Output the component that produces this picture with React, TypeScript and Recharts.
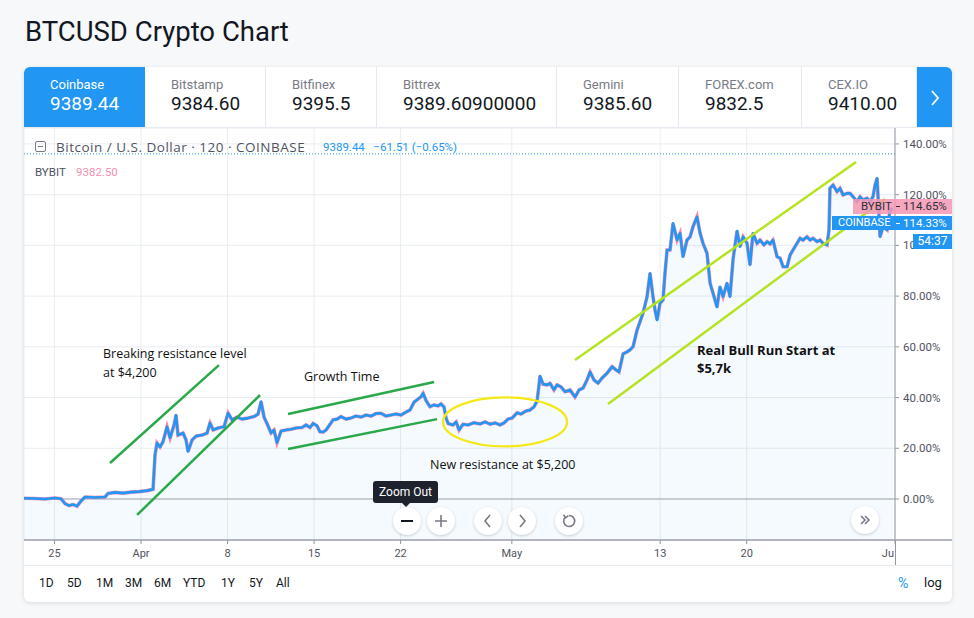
import React from 'react';
import {
  ComposedChart,
  Area,
  Line,
  XAxis,
  YAxis,
  CartesianGrid,
  ReferenceLine,
  ReferenceDot,
} from 'recharts';

// Sample times, in days from 1 April (thinned 2-hour bars)
const dayOffsets = [
  -9.47, -8.58, -7.77, -6.96, -6.47, -6.15, -5.82, -5.5, -5.18, -4.86,
  -4.53, -3.72, -2.91, -2.67, -2.1, -1.46, -0.81, -0.16, 0.49, 0.97,
  1.13, 1.29, 1.54, 1.78, 2.1, 2.35, 2.67, 2.83, 2.99, 3.4,
  3.64, 3.8, 4.13, 4.45, 4.94, 5.34, 5.58, 5.83, 6.23, 6.72,
  7.04, 7.36, 7.77, 8.17, 8.66, 9.14, 9.47, 9.71, 9.95, 10.28,
  10.52, 10.76, 11.0, 11.33, 11.73, 12.14, 12.54, 13.03, 13.35, 13.67,
  13.92, 14.24, 14.48, 14.72, 14.97, 15.53, 15.86, 16.18, 16.59, 16.91,
  17.39, 17.8, 18.2, 18.61, 19.01, 19.42, 19.82, 20.23, 20.63, 21.04,
  21.44, 21.76, 22.09, 22.41, 22.65, 22.82, 23.06, 23.38, 23.71, 24.03,
  24.27, 24.51, 24.68, 24.84, 25.24, 25.49, 25.73, 26.05, 26.46, 26.94,
  27.43, 27.83, 28.24, 28.64, 29.05, 29.37, 29.69, 30.02, 30.42, 30.74,
  31.15, 31.47, 31.8, 32.04, 32.2, 32.28, 32.52, 32.85, 33.09, 33.41,
  33.66, 33.98, 34.3, 34.71, 35.11, 35.44, 35.76, 36.08, 36.33, 36.65,
  36.97, 37.3, 37.7, 38.11, 38.43, 38.67, 39.0, 39.32, 39.56, 39.81,
  40.13, 40.37, 40.61, 40.94, 41.18, 41.42, 41.59, 41.75, 41.99, 42.23,
  42.39, 42.56, 42.8, 43.04, 43.37, 43.61, 43.85, 44.17, 44.42, 44.66,
  44.98, 45.23, 45.47, 45.79, 46.04, 46.28, 46.6, 46.84, 47.09, 47.41,
  47.65, 47.9, 48.22, 48.46, 48.71, 49.03, 49.27, 49.51, 49.84, 50.08,
  50.4, 50.65, 50.89, 51.13, 51.46, 51.7, 51.94, 52.27, 52.51, 52.75,
  53.07, 53.32, 53.56, 53.88, 54.13, 54.37, 54.69, 54.94, 55.18, 55.5,
  55.66, 55.74, 55.99, 56.31, 56.55, 56.8, 57.12, 57.36, 57.61, 57.93,
  58.17, 58.41, 58.74, 58.98, 59.22, 59.39, 59.55, 59.63, 59.79, 60.03,
  60.36, 60.6, 60.84,
];

// BTC/USD on Coinbase, percent change from the first bar
const coinbasePct = [
  0.3, 0.2, 0.0, 0.4, 0.1, -1.8, -2.6, -2.2, -2.8, -0.8,
  0.8, 0.6, 0.8, 2.2, 2.6, 2.3, 2.7, 2.9, 3.3, 3.8,
  17.4, 22.1, 20.5, 22.6, 28.5, 24.1, 29.2, 33.1, 25.2, 26.0,
  23.3, 18.7, 23.3, 24.8, 25.2, 26.0, 30.0, 27.2, 28.0, 28.5,
  33.9, 31.2, 32.3, 31.5, 31.9, 32.5, 33.5, 38.4, 32.3, 28.8,
  26.0, 27.2, 22.2, 26.8, 27.2, 27.5, 28.0, 28.2, 29.2, 28.2,
  29.8, 28.8, 26.5, 26.4, 27.2, 31.2, 31.5, 32.5, 31.5, 31.8,
  32.7, 32.3, 33.1, 32.7, 33.7, 33.8, 32.7, 33.1, 33.5, 33.1,
  34.3, 35.1, 38.2, 39.4, 40.3, 41.7, 38.8, 36.4, 37.1, 36.7,
  37.5, 36.3, 31.9, 29.8, 29.2, 30.4, 27.2, 29.5, 29.2, 30.1,
  29.6, 30.4, 29.5, 30.0, 29.2, 30.0, 31.5, 31.9, 34.0, 33.5,
  34.7, 35.1, 36.4, 38.6, 45.0, 48.5, 45.3, 45.0, 45.6, 43.0,
  45.0, 44.2, 42.3, 43.0, 40.2, 43.0, 43.7, 46.9, 50.1, 46.9,
  45.7, 47.7, 49.6, 52.2, 50.9, 50.1, 57.2, 58.0, 58.8, 60.1,
  66.6, 69.9, 73.2, 79.8, 89.0, 79.8, 74.5, 70.6, 77.2, 78.5,
  89.0, 98.2, 98.2, 108.7, 102.1, 104.8, 95.5, 102.1, 103.4, 107.4,
  111.3, 104.8, 100.8, 96.9, 85.1, 81.1, 75.7, 83.7, 79.8, 85.1,
  79.8, 94.6, 105.7, 99.5, 103.4, 100.8, 92.3, 104.8, 100.8, 102.1,
  100.2, 101.5, 100.6, 102.1, 95.5, 95.0, 91.6, 91.6, 96.2, 98.2,
  100.8, 102.8, 102.1, 103.4, 102.1, 102.8, 101.5, 102.1, 100.8, 100.2,
  106.1, 122.5, 123.8, 121.2, 122.5, 119.9, 120.5, 120.5, 119.2, 117.2,
  119.2, 117.9, 118.6, 117.2, 119.2, 123.8, 126.5, 119.2, 103.4, 107.4,
  106.1, 114.0, 114.33,
];

const xTickDays = [-7, 0, 7, 14, 21, 30, 42, 49, 61];
const xTickLabels = ['25', 'Apr', '8', '15', '22', 'May', '13', '20', 'Ju'];
const yTicks = [0, 20, 40, 60, 80, 100, 120, 140];

const exchangeNames = ['Coinbase', 'Bitstamp', 'Bitfinex', 'Bittrex', 'Gemini', 'FOREX.com', 'CEX.IO'];
const exchangePrices = ['9389.44', '9384.60', '9395.5', '9389.60900000', '9385.60', '9832.5', '9410.00'];
const rangeButtons = ['1D', '5D', '1M', '3M', '6M', 'YTD', '1Y', '5Y', 'All'];

const bybitLastPct = 114.65;
const coinbaseLastPct = 114.33;
const prevClosePct = 136.1;

// Drawn trend annotations, in (day, percent) space
const greenTrendLines = [
  [{ x: -2.51, y: 14.2 }, { x: 6.3, y: 52.8 }],
  [{ x: -0.32, y: -6.3 }, { x: 9.63, y: 41.0 }],
  [{ x: 11.89, y: 33.5 }, { x: 23.71, y: 46.1 }],
  [{ x: 11.89, y: 19.7 }, { x: 23.95, y: 31.5 }],
];
const limeTrendLines = [
  [{ x: 35.11, y: 54.8 }, { x: 57.85, y: 132.9 }],
  [{ x: 37.78, y: 37.5 }, { x: 60.19, y: 118.3 }],
];
const resistanceZone = { x: 29.45, y: 30.4 };

const chartData = dayOffsets.map((t, i) => ({ t, coinbase: coinbasePct[i] }));

const FONT = 'Roboto, "Open Sans", sans-serif';
const NOTE_FONT = '"Open Sans", "Noto Sans", sans-serif';

// Layout
const CHART_LEFT = 24;
const CHART_TOP = 128;
const CHART_W = 928;
const CHART_H = 437;
const AXIS_W = 57;
const XAXIS_H = 25;
const X_MIN = -9.47;
const X_MAX = 61.0;
const Y_MIN = -16.17;
const Y_MAX = 146.29;
const PLOT_BOTTOM = CHART_TOP + CHART_H - XAXIS_H;
const PLOT_RIGHT = CHART_LEFT + CHART_W - AXIS_W;
const valueToY = (v: number) =>
  CHART_TOP + ((Y_MAX - v) / (Y_MAX - Y_MIN)) * (PLOT_BOTTOM - CHART_TOP);

const tabWidths = [121, 121, 111, 180, 122, 123, 115];

const XTick = (props: any) => {
  const { x, y, payload } = props;
  const i = xTickDays.indexOf(payload.value);
  const last = i === xTickDays.length - 1;
  return (
    <text
      x={last ? x - 1 : x}
      y={y + 11}
      textAnchor={last ? 'end' : 'middle'}
      fontSize={11}
      fill="#50535e"
      fontFamily={FONT}
    >
      {xTickLabels[i]}
    </text>
  );
};

const abs = (left: number, top: number, extra: React.CSSProperties = {}): React.CSSProperties => ({
  position: 'absolute',
  left,
  top,
  ...extra,
});

const RoundButton = ({ cx, cy, children }: { cx: number; cy: number; children: React.ReactNode }) => (
  <div
    style={abs(cx - 14, cy - 14, {
      width: 28,
      height: 28,
      borderRadius: 14,
      background: '#fff',
      boxShadow: '0 1px 3px rgba(0,0,0,0.18)',
      display: 'flex',
      alignItems: 'center',
      justifyContent: 'center',
    })}
  >
    <svg width={16} height={16} viewBox="0 0 16 16">
      {children}
    </svg>
  </div>
);

export default function App() {
  let tabX = CHART_LEFT;
  const tabs = exchangeNames.map((name, i) => {
    const left = tabX;
    tabX += tabWidths[i];
    const active = i === 0;
    return (
      <div
        key={name}
        style={abs(left, 67, {
          width: tabWidths[i],
          height: 61,
          background: active ? '#2196f3' : '#fff',
          borderRight: active ? 'none' : '1px solid #e6e9ef',
          borderTopLeftRadius: active ? 6 : 0,
          boxSizing: 'border-box',
        })}
      >
        <div
          style={abs(26, 9, {
            fontSize: 13,
            lineHeight: '18px',
            color: active ? '#fff' : '#787b86',
            whiteSpace: 'nowrap',
          })}
        >
          {name}
        </div>
        <div
          style={abs(26, 25, {
            fontSize: 19,
            lineHeight: '24px',
            color: active ? '#fff' : '#131722',
            whiteSpace: 'nowrap',
          })}
        >
          {exchangePrices[i]}
        </div>
      </div>
    );
  });

  const bybitY = valueToY(bybitLastPct);
  const coinbaseY = valueToY(coinbaseLastPct);

  return (
    <div
      style={{
        position: 'absolute',
        left: 0,
        top: 0,
        width: 974,
        height: 618,
        background: '#f7f8fa',
        overflow: 'hidden',
        fontFamily: FONT,
      }}
    >
      <div style={abs(25, 14, { fontSize: 27.5, lineHeight: '36px', color: '#131722' })}>
        BTCUSD Crypto Chart
      </div>

      {/* card */}
      <div
        style={abs(24, 67, {
          width: 928,
          height: 535,
          background: '#fff',
          borderRadius: 6,
          boxShadow: '0 1px 4px rgba(0,0,0,0.13)',
        })}
      />

      {tabs}
      <div
        style={abs(917, 67, {
          width: 35,
          height: 61,
          background: '#2196f3',
          borderTopRightRadius: 6,
          display: 'flex',
          alignItems: 'center',
          justifyContent: 'center',
        })}
      >
        <svg width={12} height={18} viewBox="0 0 12 18">
          <path d="M3 2 L9 9 L3 16" stroke="#fff" strokeWidth={1.8} fill="none" />
        </svg>
      </div>
      <div style={abs(24, 127, { width: 928, height: 1, background: '#e6e9ef' })} />

      <div style={abs(CHART_LEFT, CHART_TOP)}>
        <ComposedChart
          width={CHART_W}
          height={CHART_H}
          data={chartData}
          margin={{ top: 0, right: 0, bottom: 0, left: 0 }}
        >
          <CartesianGrid stroke="#e8edf3" />
          <XAxis
            dataKey="t"
            type="number"
            domain={[X_MIN, X_MAX]}
            ticks={xTickDays}
            allowDataOverflow
            height={XAXIS_H}
            axisLine={{ stroke: '#b2b5be', strokeWidth: 2 }}
            tickLine={{ stroke: '#9598a1' }}
            tickSize={4}
            tick={(p: any) => <XTick {...p} />}
          />
          <YAxis
            orientation="right"
            type="number"
            domain={[Y_MIN, Y_MAX]}
            ticks={yTicks}
            allowDataOverflow
            width={AXIS_W}
            axisLine={{ stroke: '#9598a1' }}
            tickLine={{ stroke: '#9598a1' }}
            tickSize={4}
            tickMargin={4}
            tick={{ fontSize: 11.5, fill: '#50535e', fontFamily: FONT }}
            tickFormatter={(v: number) => `${v.toFixed(2)}%`}
          />
          <ReferenceLine y={0} stroke="#a3a6af" strokeWidth={1} />
          <ReferenceLine y={prevClosePct} stroke="#2196f3" strokeDasharray="1 2" />
          <Area
            dataKey="coinbase"
            type="linear"
            stroke="none"
            fill="#2196f3"
            fillOpacity={0.05}
            baseValue="dataMin"
            isAnimationActive={false}
          />
          <Line
            dataKey="coinbase"
            type="linear"
            stroke="#f48fb1"
            strokeWidth={3.6}
            dot={false}
            isAnimationActive={false}
          />
          <Line
            dataKey="coinbase"
            type="linear"
            stroke="#2196f3"
            strokeWidth={2.6}
            strokeLinejoin="round"
            dot={false}
            isAnimationActive={false}
          />
          {greenTrendLines.map((seg, i) => (
            <ReferenceLine
              key={`g${i}`}
              segment={seg}
              stroke="#2aa84a"
              strokeWidth={2.5}
              ifOverflow="visible"
            />
          ))}
          {limeTrendLines.map((seg, i) => (
            <ReferenceLine
              key={`l${i}`}
              segment={seg}
              stroke="#b5e31e"
              strokeWidth={2.5}
              ifOverflow="visible"
            />
          ))}
          <ReferenceDot
            x={resistanceZone.x}
            y={resistanceZone.y}
            r={1}
            ifOverflow="visible"
            shape={(p: any) => (
              <ellipse
                cx={p.cx}
                cy={p.cy}
                rx={62}
                ry={24.5}
                fill="none"
                stroke="#f4e815"
                strokeWidth={2.3}
              />
            )}
          />
        </ComposedChart>
      </div>

      {/* axis frame extensions */}
      <div style={abs(PLOT_RIGHT, PLOT_BOTTOM - 1, { width: 952 - PLOT_RIGHT, height: 2, background: '#b2b5be' })} />
      <div style={abs(PLOT_RIGHT, PLOT_BOTTOM, { width: 1, height: 25, background: '#9598a1' })} />
      <div style={abs(24, 565, { width: 928, height: 1, background: '#e6e9ef' })} />

      {/* series legend */}
      <div
        style={abs(35, 141, {
          width: 11,
          height: 11,
          border: '1px solid #787b86',
          borderRadius: 2,
          boxSizing: 'border-box',
        })}
      >
        <div style={abs(2, 4, { width: 5, height: 1, background: '#787b86' })} />
      </div>
      <div
        style={abs(56, 138, {
          fontFamily: NOTE_FONT,
          fontSize: 13.5,
          letterSpacing: 0.5,
          lineHeight: '18px',
          color: '#50535e',
          whiteSpace: 'nowrap',
        })}
      >
        Bitcoin / U.S. Dollar · 120 · COINBASE
      </div>
      <div style={abs(323, 139, { fontSize: 11.5, lineHeight: '16px', color: '#2196f3', whiteSpace: 'pre' })}>
        {'9389.44   −61.51 (−0.65%)'}
      </div>
      <div style={abs(35, 164, { fontSize: 11.5, lineHeight: '16px', color: '#50535e' })}>BYBIT</div>
      <div style={abs(76, 164, { fontSize: 11.5, lineHeight: '16px', color: '#f48fb1' })}>9382.50</div>

      {/* notes */}
      <div
        style={abs(103, 344, {
          fontFamily: NOTE_FONT,
          fontSize: 12.5,
          lineHeight: '19px',
          color: '#111',
          whiteSpace: 'nowrap',
        })}
      >
        Breaking resistance level
        <br />
        at $4,200
      </div>
      <div style={abs(304, 368, { fontFamily: NOTE_FONT, fontSize: 12.5, lineHeight: '18px', color: '#111' })}>
        Growth Time
      </div>
      <div
        style={abs(430, 456, {
          fontFamily: NOTE_FONT,
          fontSize: 12.5,
          lineHeight: '18px',
          color: '#111',
          whiteSpace: 'nowrap',
        })}
      >
        New resistance at $5,200
      </div>
      <div
        style={abs(697, 341, {
          fontFamily: NOTE_FONT,
          fontSize: 13,
          fontWeight: 700,
          lineHeight: '18px',
          color: '#111',
          whiteSpace: 'nowrap',
        })}
      >
        Real Bull Run Start at
        <br />
        $5,7k
      </div>

      {/* last-value badges on the price scale */}
      <div
        style={abs(853, bybitY - 9.5, {
          width: 99,
          height: 15,
          background: 'rgba(245,150,180,0.85)',
          fontSize: 11.5,
          lineHeight: '15px',
          color: '#2a2e39',
        })}
      >
        <span style={abs(8, 0)}>BYBIT</span>
        <span style={abs(43, 7, { width: 4, height: 1, background: '#2a2e39' })} />
        <span style={abs(50, 0)}>114.65%</span>
      </div>
      <div
        style={abs(832, coinbaseY + 7, {
          width: 120,
          height: 14,
          background: '#2196f3',
          fontSize: 11,
          lineHeight: '14px',
          color: '#fff',
        })}
      >
        <span style={abs(6, 0)}>COINBASE</span>
        <span style={abs(64, 7, { width: 4, height: 1, background: '#fff' })} />
        <span style={abs(71, 0, { fontSize: 11.5 })}>114.33%</span>
      </div>
      <div
        style={abs(913, coinbaseY + 25, {
          width: 39,
          height: 15,
          background: '#2196f3',
          fontSize: 12,
          lineHeight: '15px',
          color: '#fff',
          textAlign: 'center',
        })}
      >
        54:37
      </div>

      {/* zoom / scroll controls */}
      <div
        style={abs(373, 481, {
          width: 65,
          height: 22,
          background: '#1e222d',
          borderRadius: 3,
          color: '#fff',
          fontSize: 12,
          lineHeight: '22px',
          textAlign: 'center',
        })}
      >
        Zoom Out
      </div>
      <svg style={abs(401, 502)} width={10} height={6}>
        <path d="M0 0 L10 0 L5 5 Z" fill="#1e222d" />
      </svg>
      <RoundButton cx={407} cy={521}>
        <path d="M2 8 H14" stroke="#131722" strokeWidth={2} />
      </RoundButton>
      <RoundButton cx={441} cy={521}>
        <path d="M2 8 H14 M8 2 V14" stroke="#787b86" strokeWidth={1.6} />
      </RoundButton>
      <RoundButton cx={488} cy={521}>
        <path d="M10 2 L5 8 L10 14" stroke="#787b86" strokeWidth={1.6} fill="none" />
      </RoundButton>
      <RoundButton cx={522} cy={521}>
        <path d="M6 2 L11 8 L6 14" stroke="#787b86" strokeWidth={1.6} fill="none" />
      </RoundButton>
      <RoundButton cx={569} cy={521}>
        <path d="M4.2 4.2 A5.5 5.5 0 1 0 8 2.5" stroke="#787b86" strokeWidth={1.6} fill="none" />
        <path d="M2.5 1.8 L4.6 4.8 L7.4 2.6" stroke="#787b86" strokeWidth={1.6} fill="none" />
      </RoundButton>
      <RoundButton cx={865} cy={520}>
        <path d="M4 4 L8 8 L4 12 M8 4 L12 8 L8 12" stroke="#787b86" strokeWidth={1.6} fill="none" />
      </RoundButton>

      {/* range toolbar */}
      {rangeButtons.map((label, i) => {
        const lefts = [39, 67, 96, 125, 154, 183, 221, 249, 276];
        return (
          <div key={label} style={abs(lefts[i], 575, { fontSize: 12, lineHeight: '16px', color: '#131722' })}>
            {label}
          </div>
        );
      })}
      <div style={abs(898, 574, { fontSize: 14, lineHeight: '18px', color: '#2196f3' })}>%</div>
      <div style={abs(924, 574, { fontSize: 13, lineHeight: '18px', color: '#131722' })}>log</div>
    </div>
  );
}
